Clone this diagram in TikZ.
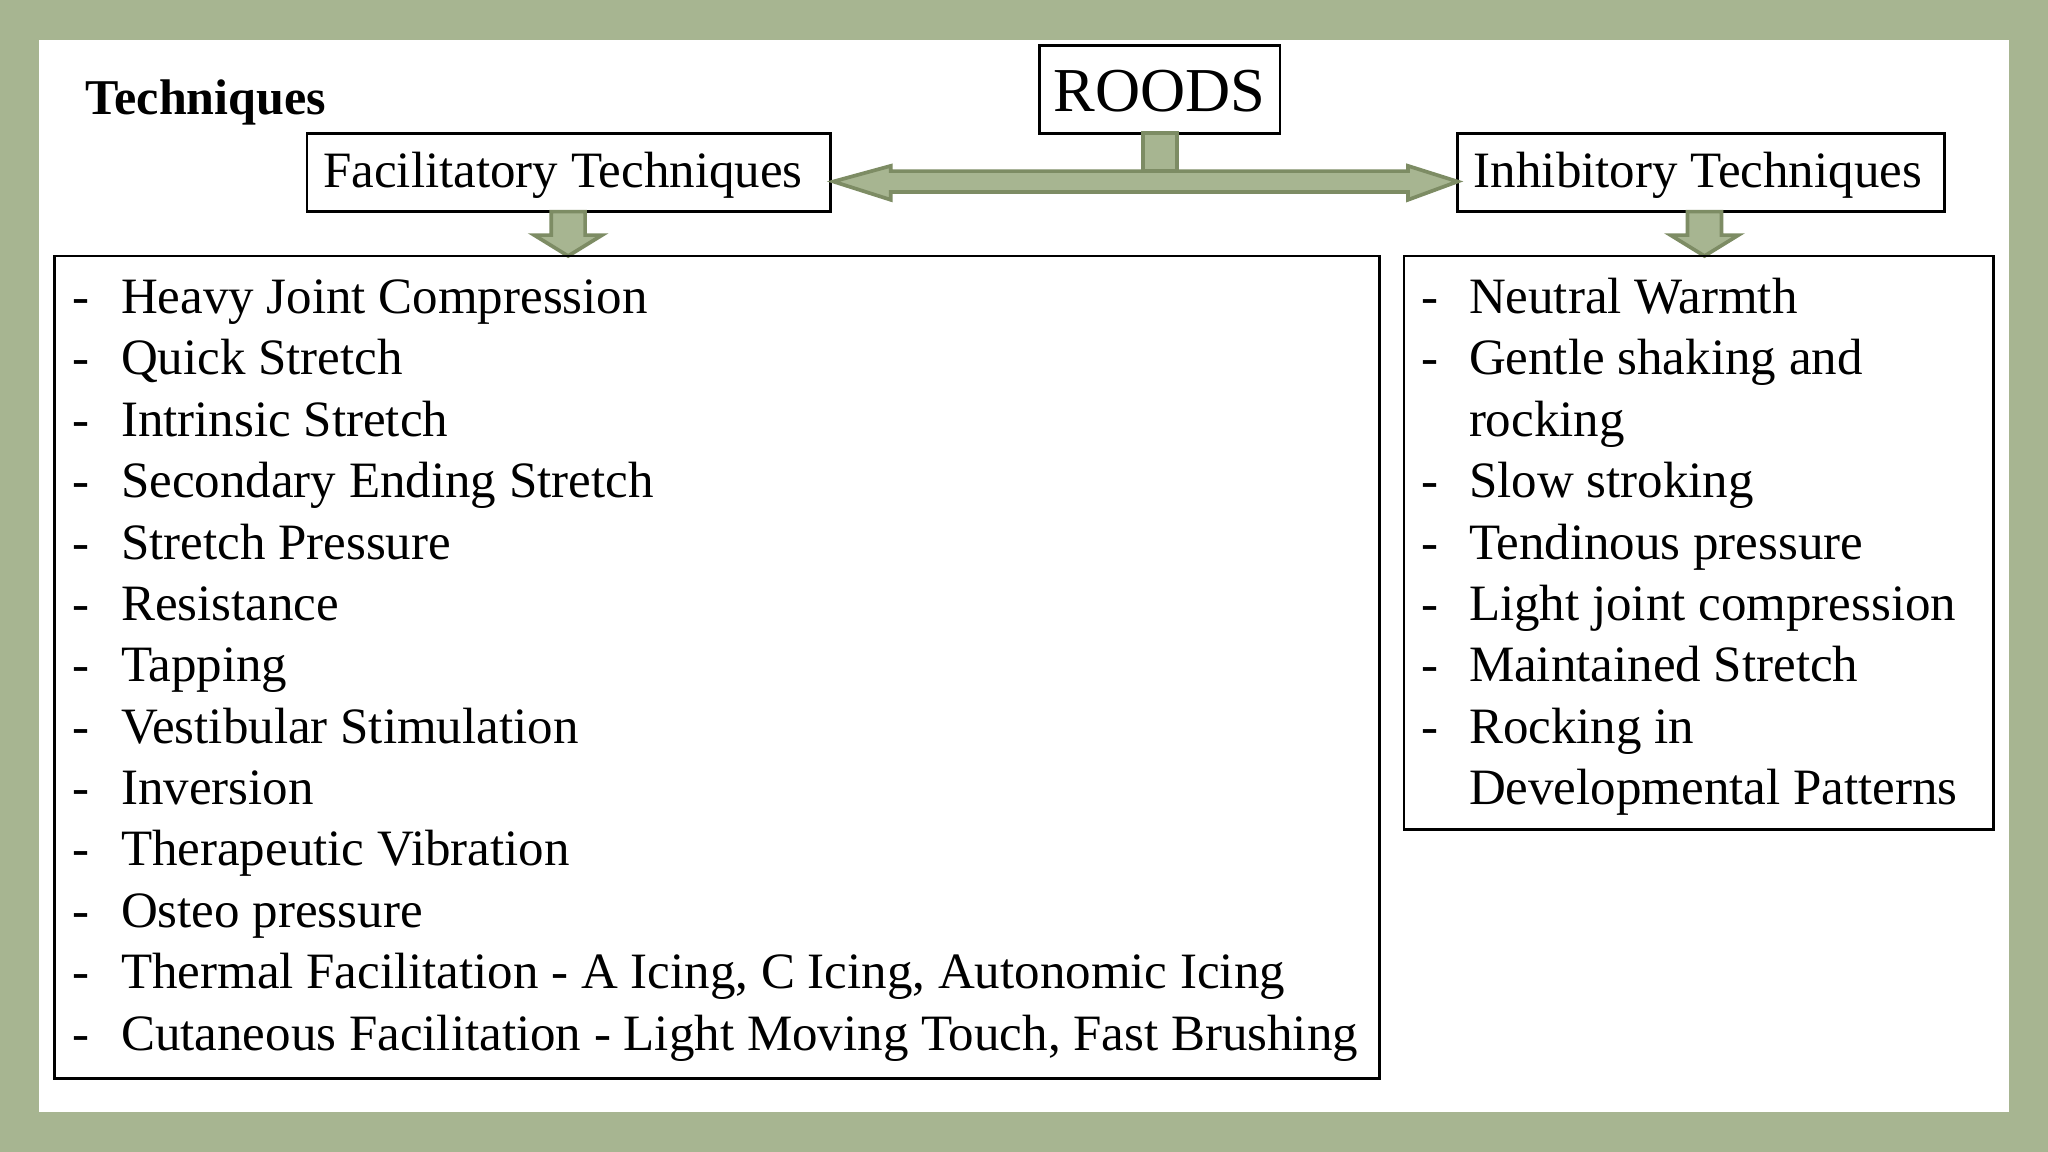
\documentclass[tikz,border=0pt]{standalone}
\usepackage{fontspec}
\setmainfont{Liberation Serif}
\begin{document}
\begin{tikzpicture}[x=0.01cm,y=-0.01cm,
  box/.style={draw=black,line width=0.6pt},
  arr/.style={fill=sage,draw=sagedark,line width=0.8pt},
  item/.style={anchor=base west,inner sep=0pt,font=\fontsize{11.1pt}{13pt}\selectfont},
  lbl/.style={inner sep=0pt,font=\fontsize{11.1pt}{13pt}\selectfont}]
\definecolor{sage}{RGB}{167,181,145}
\definecolor{sagedark}{RGB}{125,140,100}
\useasboundingbox (0,0) rectangle (1568,882);
\fill[sage] (0,0) rectangle (1568,882);
\fill[white] (30,31) rectangle (1538,851);
\node[anchor=base west,inner sep=0pt,font=\bfseries\fontsize{10.9pt}{12pt}\selectfont] (tech) at (65,88) {Techniques};
% boxes
\draw[box] (796,35) rectangle (980,102);
\node[inner sep=0pt,font=\fontsize{13.6pt}{15pt}\selectfont] (roods) at (888,70) {ROODS};
\draw[box] (235,102) rectangle (636,162);
\node[lbl] (fac) at (431,134) {Facilitatory Techniques};
\draw[box] (1116,102) rectangle (1489,162);
\node[lbl] (inh) at (1300,134) {Inhibitory Techniques};
% arrows
\draw[arr] (875,102) -- (901,102) -- (901,131) -- (875,131) -- cycle;
\draw[arr] (682,131) -- (1078,131) -- (1078,127) -- (1116,139) -- (1078,153) -- (1078,147) -- (682,147) -- (682,153) -- (638,139) -- (682,127) -- cycle;
\draw[arr] (422,162) -- (448,162) -- (448,180) -- (461,180) -- (435,196) -- (409,180) -- (422,180) -- cycle;
\draw[arr] (1292,162) -- (1318,162) -- (1318,180) -- (1331,180) -- (1305,196) -- (1279,180) -- (1292,180) -- cycle;
% lists
\draw[box] (42,196) rectangle (1056,826);
\draw[box] (1075,196) rectangle (1526,635);
\foreach [count=\i] \t in {Heavy Joint Compression,Quick Stretch,Intrinsic Stretch,Secondary Ending Stretch,Stretch Pressure,Resistance,Tapping,Vestibular Stimulation,Inversion,Therapeutic Vibration,Osteo pressure,{Thermal Facilitation - A Icing, C Icing, Autonomic Icing},{Cutaneous Facilitation - Light Moving Touch, Fast Brushing}}{
  \node[item] (l\i) at (92,{240+47*(\i-1)}) {\t};
  \node[item] (ld\i) at (55,{240+47*(\i-1)}) {-};
}
\foreach [count=\i] \d/\t in {1/Neutral Warmth,1/Gentle shaking and,0/rocking,1/Slow stroking,1/Tendinous pressure,1/Light joint compression,1/Maintained Stretch,1/Rocking in,0/Developmental Patterns}{
  \node[item] (r\i) at (1124,{240+47*(\i-1)}) {\t};
  \ifnum\d=1 \node[item] (rd\i) at (1088,{240+47*(\i-1)}) {-};\fi
}
\end{tikzpicture}
\end{document}
